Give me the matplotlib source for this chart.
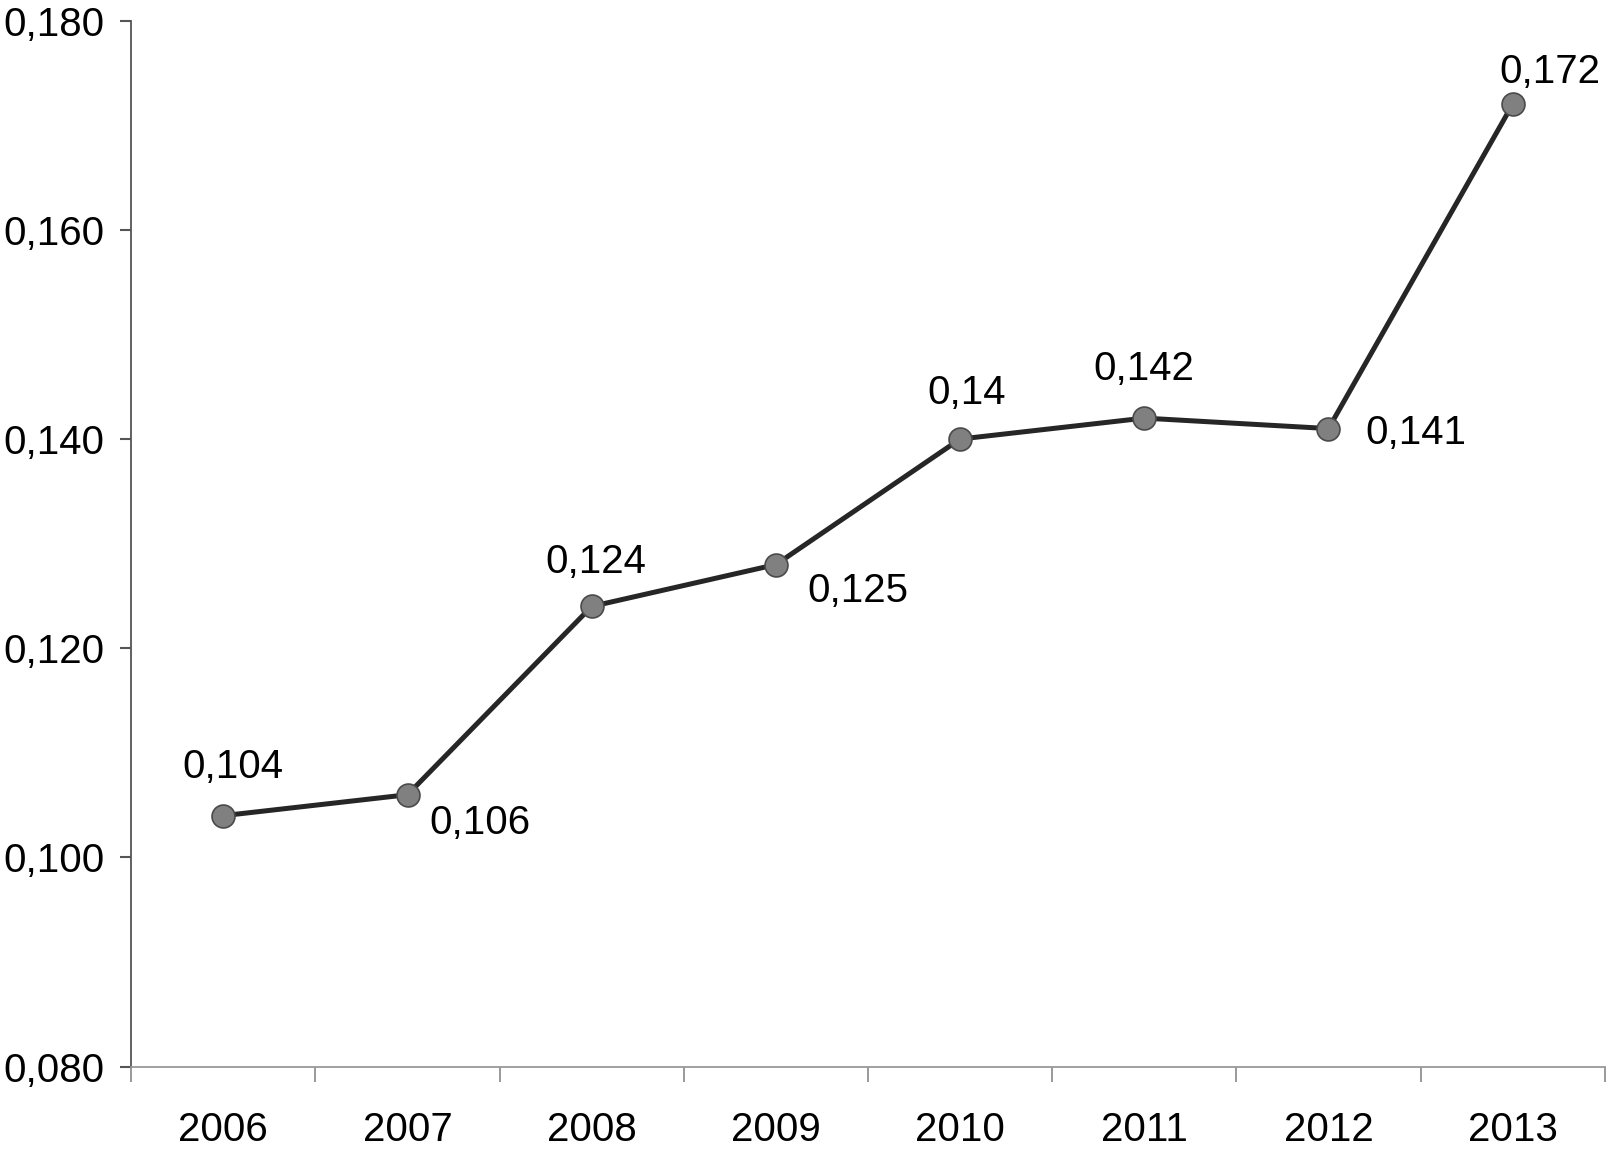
import numpy as np
import matplotlib.pyplot as plt
from matplotlib.ticker import FuncFormatter

years = ['2006', '2007', '2008', '2009', '2010', '2011', '2012', '2013']
values = [0.104, 0.106, 0.124, 0.128, 0.140, 0.142, 0.141, 0.172]
point_labels = ['0,104', '0,106', '0,124', '0,125', '0,14', '0,142', '0,141', '0,172']
y_ticks = [0.080, 0.100, 0.120, 0.140, 0.160, 0.180]

# label offsets in points
offsets = [(7, 35), (52, -20), (3, 32), (59, -19), (5, 33), (0, 35), (63, -3), (27, 23)]

plt.rcParams['font.family'] = ['Liberation Sans', 'DejaVu Sans']

fig = plt.figure(figsize=(16.08, 11.49), dpi=100)
ax = fig.add_axes([0.0816, 0.0716, 0.9164, 0.9105])

x = np.arange(len(years))
ax.plot(x, values, color='#262626', lw=3.6, zorder=2)
ax.plot(x, values, 'o', ms=16.5, mfc='#808080', mec='#4a4a4a', mew=1.2, zorder=3)

for xi, v, lab, off in zip(x, values, point_labels, offsets):
    ax.annotate(lab, (xi, v), xytext=off, textcoords='offset points',
                ha='center', va='center', fontsize=29, color='black',
                annotation_clip=False)

ax.set_xlim(-0.5, len(years) - 0.5)
ax.set_ylim(0.080, 0.180)
ax.set_yticks(y_ticks)
ax.yaxis.set_major_formatter(FuncFormatter(lambda v, p: f'{v:.3f}'.replace('.', ',')))

ax.set_xticks(x)
ax.set_xticklabels(years)
ax.set_xticks(np.arange(-0.5, len(years)), minor=True)
ax.tick_params(axis='x', which='major', length=0, pad=32, labelsize=29)
ax.tick_params(axis='x', which='minor', length=11, width=1.2, color='#888888')
ax.tick_params(axis='y', length=8, width=1.5, color='#555555', pad=11, labelsize=29)

for s in ['top', 'right']:
    ax.spines[s].set_visible(False)
ax.spines['left'].set_color('#555555')
ax.spines['left'].set_linewidth(1.3)
ax.spines['bottom'].set_color('#999999')
ax.spines['bottom'].set_linewidth(1.3)

fig.savefig('out.png', dpi=100)
